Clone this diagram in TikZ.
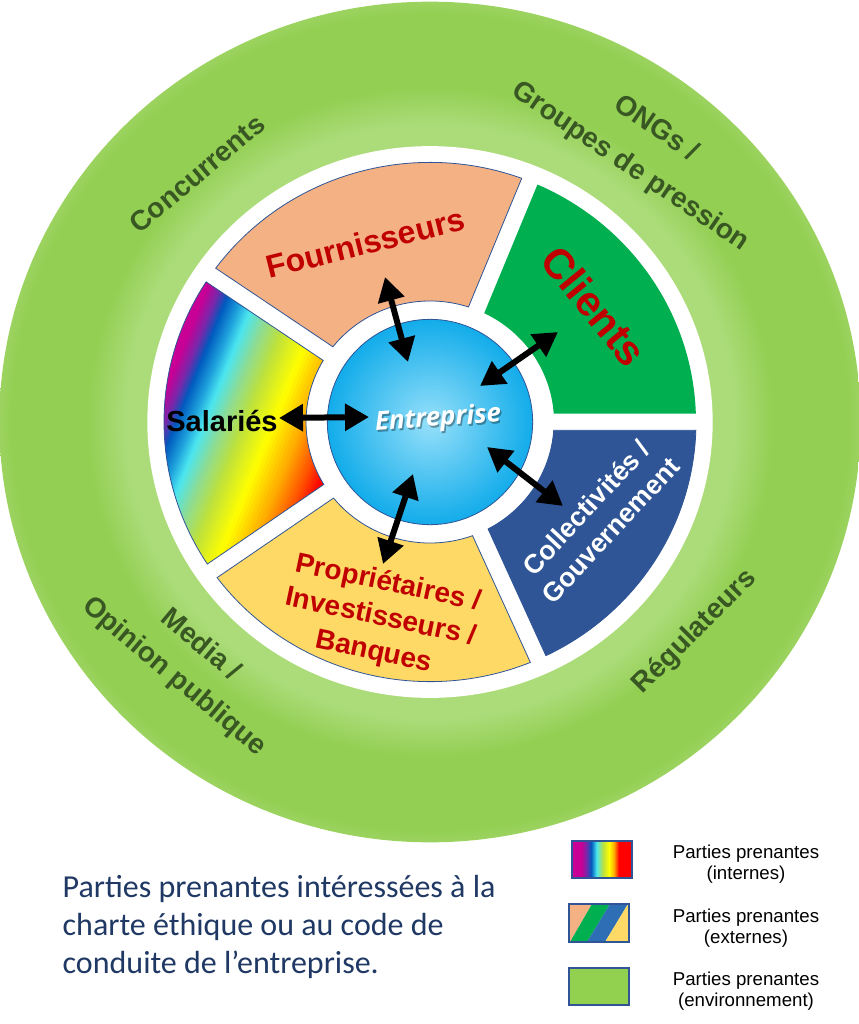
\documentclass[tikz,border=0pt]{standalone}
\usepackage{fontspec}
\setmainfont{Liberation Sans}
\newfontfamily\carlfont{Carlito}
\newfontfamily\entfont{Open Sans}
\usetikzlibrary{arrows.meta}

\definecolor{gL}{RGB}{172,220,122}
\definecolor{gD}{RGB}{146,207,82}
\definecolor{gE}{RGB}{156,211,96}
\definecolor{peach}{RGB}{244,177,131}
\definecolor{clgreen}{RGB}{0,176,80}
\definecolor{govblue}{RGB}{47,85,151}
\definecolor{legblue}{RGB}{46,110,180}
\definecolor{gold}{RGB}{255,217,102}
\definecolor{redtxt}{RGB}{192,0,0}
\definecolor{darkgreen}{RGB}{56,87,35}
\definecolor{navy}{RGB}{31,56,100}
\definecolor{outl}{RGB}{47,85,151}
\definecolor{entL}{RGB}{150,224,250}
\definecolor{entD}{RGB}{18,172,234}
\definecolor{envgreen}{RGB}{146,208,80}
\definecolor{rb1}{RGB}{200,0,150}
\definecolor{rb2}{RGB}{120,40,170}
\definecolor{rb3}{RGB}{0,90,190}
\definecolor{rb4}{RGB}{30,160,220}
\definecolor{rb5}{RGB}{75,230,240}
\definecolor{rb6}{RGB}{140,220,150}
\definecolor{rb7}{RGB}{190,225,60}
\definecolor{rb8}{RGB}{255,255,0}
\definecolor{rb9}{RGB}{255,170,0}
\definecolor{rb10}{RGB}{255,80,0}
\definecolor{rb11}{RGB}{255,0,0}

\pgfdeclareradialshading{greenring}{\pgfpointorigin}{color(0bp)=(gL); color(16.6bp)=(gL); color(17.6bp)=(gL); color(20bp)=(gD); color(24.2bp)=(gD); color(25bp)=(gE); color(50bp)=(gE)}
\pgfdeclarehorizontalshading{legrb}{100bp}{color(0bp)=(rb1); color(33bp)=(rb1); color(37bp)=(rb2); color(41bp)=(rb3); color(45.5bp)=(rb5); color(51bp)=(rb7); color(56bp)=(rb8); color(60bp)=(rb9); color(64bp)=(rb11); color(100bp)=(rb11)}

\def\Ro{199.5pt}
\def\Ri{93pt}
\newcommand{\ringsector}[3]{\path[ring,#3] ({#1+1.83}:\Ro) arc[start angle={#1+1.83}, end angle={#2-1.83}, radius=\Ro] -- ({#2-3.93}:\Ri) arc[start angle={#2-3.93}, end angle={#1+3.93}, radius=\Ri] -- cycle;}

\begin{document}
\begin{tikzpicture}[x=0.75pt, y=-0.75pt,
  ring/.style={shift={(430,422)}, yscale=0.976},
  sectorline/.style={draw=outl, line width=0.6pt},
  dbl/.style={line width=4.5pt, >={Triangle[length=18pt,width=19.5pt]}, <->},
  redlabel/.style={font=\bfseries\fontsize{21}{26.25}\selectfont, text=redtxt, align=center},
  outlabel/.style={font=\bfseries\fontsize{21}{25}\selectfont, text=darkgreen, align=center},
  colllabel/.style={font=\bfseries\fontsize{20}{25}\selectfont, text=white, align=center},
  legtext/.style={font=\fontsize{14}{16}\selectfont, anchor=base},
  notetext/.style={font=\carlfont\fontsize{24}{28.5}\selectfont, text=navy, anchor=base west},
  legbox/.style={draw=outl, line width=1.1pt},
]
\useasboundingbox (0,0) rectangle (859,1024);
\fill[white] (0,0) rectangle (859,1024);

% environment ring
\shade[ring, shading=greenring] (0,0) circle[radius=323pt];
\fill[ring, white] (0,0) circle[radius=212pt];

% sectors
\ringsector{68}{145.5}{fill=peach, sectorline}
\ringsector{0}{68}{fill=clgreen}
\ringsector{294}{360}{fill=govblue, sectorline}
\ringsector{215}{294}{fill=gold, sectorline}
\begin{scope}
  \ringsector{145.5}{215}{clip}
  \foreach \sa/\sb/\ca/\cb in {260/300/rb1/rb1, 300/312/rb1/rb2, 312/322/rb2/rb3, 322/336/rb3/rb4, 336/348/rb4/rb5, 348/365/rb5/rb6, 365/385/rb6/rb7, 385/412/rb7/rb8, 412/440/rb8/rb9, 440/462/rb9/rb10, 462/478/rb10/rb11, 478/530/rb11/rb11}{
    \foreach \k in {0,...,7}{
      \pgfmathsetmacro\xa{\sa+(\sb-\sa)*\k/8}
      \pgfmathsetmacro\xb{\sa+(\sb-\sa)*(\k+1)/8+0.6}
      \pgfmathtruncatemacro\pc{100*(\k+0.5)/8}
      \fill[rotate=-22, color=\cb!\pc!\ca] (\xa,-1400) rectangle (\xb,1400);
    }
  }
\end{scope}
\ringsector{145.5}{215}{sectorline}

% centre
\node[circle, minimum size=154pt, inner sep=0pt, inner color=entL, outer color=entD, draw=outl, line width=0.6pt] (ent) at (430,422) {};

% arrows
\coordinate (fo1) at (385,277); \coordinate (fo2) at (408,362);
\coordinate (cl1) at (558,332); \coordinate (cl2) at (480,386);
\coordinate (sa1) at (279,418); \coordinate (sa2) at (369,417);
\coordinate (pr1) at (413,474); \coordinate (pr2) at (383,564);
\coordinate (co1) at (487,447); \coordinate (co2) at (563,506);
\draw[dbl] (fo1) -- (fo2);
\draw[dbl] (cl1) -- (cl2);
\draw[dbl] (sa1) -- (sa2);
\draw[dbl] (pr1) -- (pr2);
\draw[dbl] (co1) -- (co2);

% inner labels
\node[redlabel, font=\bfseries\fontsize{24}{28}\selectfont, rotate=14, anchor=base] (fourn) at (368,254) {Fournisseurs};
\node[redlabel, font=\bfseries\fontsize{31.5}{36}\selectfont, rotate=-50.7] (clients) at (594,306) {Clients};
\node[font=\bfseries\fontsize{21.75}{26}\selectfont, anchor=base] (salaries) at (222,431) {Salariés};
\node[redlabel, rotate=-12] (prop) at (381,618) {Propriétaires /\\Investisseurs /\\Banques};
\node[colllabel, rotate=47] (coll) at (598,519) {Collectivités /\\Gouvernement};
\node[font=\entfont\bfseries\itshape\fontsize{19.5}{23}\selectfont, text=black, opacity=0.35, rotate=4, anchor=base] (entsh) at (440,428) {Entreprise};
\node[font=\entfont\bfseries\itshape\fontsize{19.5}{23}\selectfont, text=white, rotate=4, anchor=base] (enttxt) at (438.5,426) {Entreprise};

% outer labels
\node[outlabel, rotate=40] (conc) at (197,174) {Concurrents};
\node[outlabel, font=\bfseries\fontsize{21}{34.5}\selectfont, rotate=-34] (ong) at (643,148) {ONGs /\\Groupes de pression};
\node[outlabel, font=\bfseries\fontsize{21}{30.75}\selectfont, rotate=-40] (med) at (187,661) {Media /\\Opinion publique};
\node[outlabel, rotate=45] (reg) at (695,632) {Régulateurs};

% note
\node[notetext] (note1) at (58,897) {Parties prenantes intéressées à la};
\node[notetext] (note2) at (58,935) {charte éthique ou au code de};
\node[notetext] (note3) at (58,973) {conduite de l’entreprise.};

% legend
\shade[shading=legrb] (572,841) rectangle (632,878);
\draw[legbox] (572,841) rectangle (632,878);
\begin{scope}
  \clip (569,904) rectangle (629,942);
  \fill[peach] (560,904) -- (592,904) -- (570,942) -- (560,942) -- cycle;
  \fill[clgreen] (592,904) -- (610,904) -- (587,942) -- (570,942) -- cycle;
  \fill[legblue] (610,904) -- (628,904) -- (605,942) -- (587,942) -- cycle;
  \fill[gold] (628,904) -- (640,904) -- (640,942) -- (605,942) -- cycle;
\end{scope}
\draw[legbox] (569,904) rectangle (629,942);
\filldraw[fill=envgreen, legbox] (569,968) rectangle (629,1005);

\node[legtext] (l1a) at (746,858) {Parties prenantes};
\node[legtext] (l1b) at (746,879) {(internes)};
\node[legtext] (l2a) at (746,922) {Parties prenantes};
\node[legtext] (l2b) at (746,943) {(externes)};
\node[legtext] (l3a) at (746,985) {Parties prenantes};
\node[legtext] (l3b) at (746,1006.5) {(environnement)};
\end{tikzpicture}
\end{document}
